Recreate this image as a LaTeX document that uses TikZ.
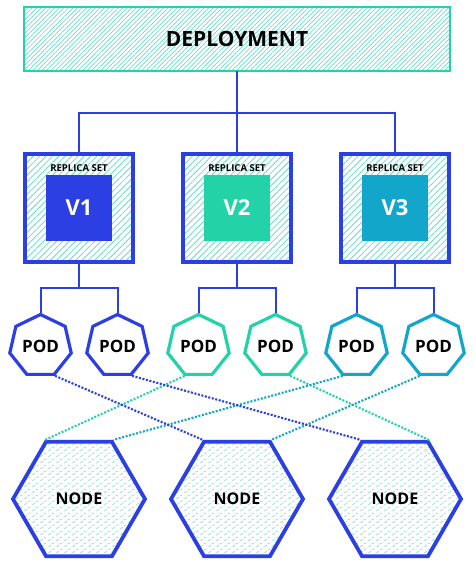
\documentclass[tikz,border=0pt]{standalone}
\usepackage{fontspec}
\setmainfont{Open Sans}
\usetikzlibrary{shapes.geometric,patterns.meta}

\definecolor{kblue}{HTML}{2B3FE3}
\definecolor{kteal}{HTML}{24D2A7}
\definecolor{kcyan}{HTML}{12A6CA}
\definecolor{khatch}{HTML}{6ADCC6}

\tikzdeclarepattern{
  name=dashgrid,
  type=uncolored,
  bounding box={(0pt,0pt) and (8pt,6pt)},
  tile size={(8pt,6pt)},
  code={
    \draw[line width=.7pt] (0.5pt,0.5pt) -- (3pt,1.8pt);
    \draw[line width=.7pt] (4.5pt,3.5pt) -- (7pt,4.8pt);
  }
}

\begin{document}
\begin{tikzpicture}[x=1pt,y=1pt,
    conn/.style={draw=kblue,line width=2pt},
    link/.style={line width=2.1pt,dash pattern=on 2pt off 1.6pt}]

      \useasboundingbox (0,0) rectangle (474,-565);

      \node[draw=kteal,line width=2.8pt,minimum width=426pt,minimum height=64pt,
        pattern={Lines[angle=45,distance=3.2pt,line width=.7pt]},pattern color=khatch,
        font=\fontsize{21}{24}\selectfont\bfseries] (dep) at (237,-39) {DEPLOYMENT};

      \begin{scope}[every node/.style={draw=kblue,line width=3.2pt,minimum size=108pt,inner sep=0pt,
          pattern={Lines[angle=45,distance=4.5pt,line width=.8pt]},pattern color=khatch}]
        \node (r1) at (79,-208)  {};
        \node (r2) at (237,-208) {};
        \node (r3) at (395,-208) {};
      \end{scope}

      \begin{scope}[every node/.style={minimum size=66pt,inner sep=0pt,text=white,
          font=\fontsize{22}{24}\selectfont\bfseries}]
        \node[fill=kblue] (v1) at (r1.center) {V1};
        \node[fill=kteal] (v2) at (r2.center) {V2};
        \node[fill=kcyan] (v3) at (r3.center) {V3};
      \end{scope}

      \begin{scope}[every node/.style={inner sep=0pt,font=\fontsize{9.5}{10}\selectfont\bfseries}]
        \node (l1) at (79,-168)  {REPLICA SET};
        \node (l2) at (237,-168) {REPLICA SET};
        \node (l3) at (395,-168) {REPLICA SET};
      \end{scope}

      \begin{scope}[every node/.style={regular polygon,regular polygon sides=7,minimum size=63pt,
          inner sep=0pt,line width=3.2pt,fill=white,font=\fontsize{17}{20}\selectfont\bfseries}]
        \node[draw=kblue] (p1) at (40.5,-346)  {POD};
        \node[draw=kblue] (p2) at (117.5,-346) {POD};
        \node[draw=kteal] (p3) at (198.5,-346) {POD};
        \node[draw=kteal] (p4) at (275.5,-346) {POD};
        \node[draw=kcyan] (p5) at (356.5,-346) {POD};
        \node[draw=kcyan] (p6) at (433.5,-346) {POD};
      \end{scope}

      \begin{scope}[every node/.style={regular polygon,regular polygon sides=6,minimum size=132pt,
          inner sep=0pt,draw=kblue,line width=3.8pt,pattern=dashgrid,pattern color=khatch,
          font=\fontsize{16}{20}\selectfont\bfseries}]
        \node (n1) at (79,-499)  {NODE};
        \node (n2) at (237,-499) {NODE};
        \node (n3) at (395,-499) {NODE};
      \end{scope}

      % tree
      \coordinate (j0) at (237,-113);
      \coordinate (j1) at (79,-288);
      \coordinate (j2) at (237,-288);
      \coordinate (j3) at (395,-288);
      \draw[conn] (dep.south) -- (j0);
      \draw[conn] (r1.north) |- (j0) -| (r3.north);
      \draw[conn] (j0) -- (r2.north);
      \draw[conn] (r1.south) -- (j1);
      \draw[conn] (r2.south) -- (j2);
      \draw[conn] (r3.south) -- (j3);
      \draw[conn] (p1.north) |- (j1) -| (p2.north);
      \draw[conn] (p3.north) |- (j2) -| (p4.north);
      \draw[conn] (p5.north) |- (j3) -| (p6.north);

      % pods on nodes
      \draw[link,kteal] (p3.-115.71) -- (n1.120);
      \draw[link,kteal] (p4.-64.29)  -- (n3.60);
      \draw[link,kcyan] (p5.-115.71) -- (n1.60);
      \draw[link,kcyan] (p6.-115.71) -- (n2.60);
      \draw[link,kblue] (p1.-64.29)  -- (n2.120);
      \draw[link,kblue] (p2.-64.29)  -- (n3.120);

    \end{tikzpicture}
\end{document}
